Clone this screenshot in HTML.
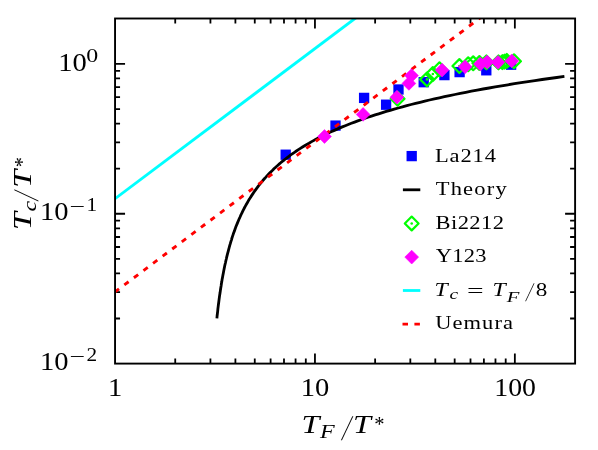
<!DOCTYPE html>
<html><head><meta charset="utf-8"><title>Tc/T* vs TF/T*</title>
<style>html,body{margin:0;padding:0;background:#fff;overflow:hidden}svg{display:block}text{font-family:"Liberation Serif",serif;fill:#000}.i{font-style:italic}</style></head>
<body>
<svg width="598" height="450" viewBox="0 0 598 450">
<rect width="598" height="450" fill="#fff"/>
<path d="M175.23 363.60v-5M175.23 18.50v5M210.43 363.60v-5M210.43 18.50v5M235.40 363.60v-5M235.40 18.50v5M254.77 363.60v-5M254.77 18.50v5M270.60 363.60v-5M270.60 18.50v5M283.99 363.60v-5M283.99 18.50v5M295.58 363.60v-5M295.58 18.50v5M305.80 363.60v-5M305.80 18.50v5M314.95 363.60v-10M314.95 18.50v10M375.13 363.60v-5M375.13 18.50v5M410.33 363.60v-5M410.33 18.50v5M435.30 363.60v-5M435.30 18.50v5M454.67 363.60v-5M454.67 18.50v5M470.50 363.60v-5M470.50 18.50v5M483.89 363.60v-5M483.89 18.50v5M495.48 363.60v-5M495.48 18.50v5M505.70 363.60v-5M505.70 18.50v5M514.85 363.60v-10M514.85 18.50v10M115.05 318.50h5M575.10 318.50h-5M115.05 292.11h5M575.10 292.11h-5M115.05 273.39h5M575.10 273.39h-5M115.05 258.87h5M575.10 258.87h-5M115.05 247.01h5M575.10 247.01h-5M115.05 236.98h5M575.10 236.98h-5M115.05 228.29h5M575.10 228.29h-5M115.05 220.63h5M575.10 220.63h-5M115.05 213.77h10M575.10 213.77h-10M115.05 168.67h5M575.10 168.67h-5M115.05 142.28h5M575.10 142.28h-5M115.05 123.56h5M575.10 123.56h-5M115.05 109.04h5M575.10 109.04h-5M115.05 97.18h5M575.10 97.18h-5M115.05 87.15h5M575.10 87.15h-5M115.05 78.46h5M575.10 78.46h-5M115.05 70.80h5M575.10 70.80h-5M115.05 63.94h10M575.10 63.94h-10" stroke="#000" stroke-width="1.8" fill="none"/>
<g fill="#0000ff">
<rect x="280.55" y="149.55" width="10.3" height="10.3"/>
<rect x="330.35" y="120.45" width="10.3" height="10.3"/>
<rect x="358.95" y="92.75" width="10.3" height="10.3"/>
<rect x="380.95" y="99.55" width="10.3" height="10.3"/>
<rect x="393.35" y="84.35" width="10.3" height="10.3"/>
<rect x="418.55" y="77.05" width="10.3" height="10.3"/>
<rect x="439.25" y="69.95" width="10.3" height="10.3"/>
<rect x="454.45" y="66.95" width="10.3" height="10.3"/>
<rect x="481.15" y="65.15" width="10.3" height="10.3"/>
<rect x="505.95" y="59.55" width="10.3" height="10.3"/>
</g>
<path d="M216.9 318.4L217.1 316.0L217.4 313.5L217.7 311.1L217.9 308.7L218.2 306.4L218.5 304.0L218.8 301.7L219.1 299.4L219.4 297.1L219.7 294.9L220.1 292.6L220.4 290.4L220.7 288.2L221.1 286.0L221.4 283.8L221.8 281.6L222.1 279.5L222.5 277.4L222.9 275.3L223.3 273.2L223.7 271.1L224.1 269.1L224.5 267.0L224.9 265.0L225.4 263.0L225.8 261.0L226.3 259.0L226.7 257.1L227.2 255.1L227.7 253.2L228.2 251.3L228.7 249.4L229.2 247.5L229.7 245.6L230.3 243.7L230.8 241.9L231.4 240.1L231.9 238.2L232.5 236.4L233.1 234.6L233.7 232.8L234.4 231.1L235.0 229.3L235.6 227.6L236.3 225.8L237.0 224.1L237.7 222.4L238.4 220.7L239.1 219.0L239.9 217.3L240.6 215.7L241.4 214.0L242.2 212.3L243.0 210.7L243.8 209.1L244.6 207.5L245.5 205.9L246.4 204.3L247.3 202.7L248.2 201.1L249.1 199.5L250.1 198.0L251.1 196.4L252.1 194.9L253.1 193.4L254.1 191.8L255.2 190.3L256.3 188.8L257.4 187.3L258.5 185.8L259.7 184.4L260.9 182.9L262.1 181.4L263.3 180.0L264.6 178.5L265.9 177.1L267.2 175.6L268.5 174.2L269.9 172.8L271.3 171.4L272.8 170.0L274.2 168.6L275.7 167.2L277.3 165.8L278.8 164.4L280.4 163.0L282.0 161.7L283.7 160.3L285.4 159.0L287.2 157.6L288.9 156.3L290.7 154.9L292.6 153.6L294.5 152.3L296.4 151.0L298.4 149.6L300.4 148.3L302.5 147.0L304.6 145.7L306.8 144.4L309.0 143.2L311.2 141.9L313.5 140.6L315.9 139.3L318.3 138.1L320.7 136.8L323.2 135.6L325.8 134.3L328.4 133.1L331.0 131.8L333.8 130.6L336.6 129.4L339.4 128.1L342.3 126.9L345.3 125.7L348.3 124.5L351.4 123.3L354.6 122.1L357.8 120.9L361.1 119.7L364.5 118.5L367.9 117.3L371.5 116.1L375.1 114.9L378.7 113.8L382.5 112.6L386.3 111.4L390.2 110.3L394.2 109.1L398.3 108.0L402.5 106.8L406.8 105.7L411.1 104.5L415.6 103.4L420.1 102.3L424.8 101.1L429.5 100.0L434.4 98.9L439.4 97.8L444.4 96.7L449.6 95.6L454.9 94.5L460.3 93.4L465.8 92.3L471.4 91.2L477.2 90.1L483.1 89.0L489.1 88.0L495.2 86.9L501.5 85.8L507.9 84.8L514.4 83.7L521.1 82.7L528.0 81.6L534.9 80.6L542.1 79.5L549.4 78.5L556.8 77.5L564.4 76.4" stroke="#000" stroke-width="2.8" fill="none" stroke-linejoin="round"/>
<clipPath id="c"><rect x="115.05" y="18.5" width="460.05" height="345.1"/></clipPath>
<path clip-path="url(#c)" d="M115.05 198.70L361.65 13.50" stroke="#00ffff" stroke-width="2.9" fill="none"/>
<path clip-path="url(#c)" d="M115.05 291.90L486.05 13.50" stroke="#ff0000" stroke-width="2.9" stroke-dasharray="5.3 6.67" stroke-dashoffset="0.35" fill="none"/>
<g fill="none" stroke="#00ff00" stroke-width="2.2" stroke-linejoin="round">
<path d="M390.70 98.80L397.60 91.90L404.50 98.80L397.60 105.70ZM420.10 79.40L427.00 72.50L433.90 79.40L427.00 86.30ZM425.95 74.05L432.85 67.15L439.75 74.05L432.85 80.95ZM432.60 69.20L439.50 62.30L446.40 69.20L439.50 76.10ZM452.50 66.05L459.40 59.15L466.30 66.05L459.40 72.95ZM461.30 64.20L468.20 57.30L475.10 64.20L468.20 71.10ZM466.30 63.30L473.20 56.40L480.10 63.30L473.20 70.20ZM472.50 63.00L479.40 56.10L486.30 63.00L479.40 69.90ZM479.50 62.40L486.40 55.50L493.30 62.40L486.40 69.30ZM491.60 62.40L498.50 55.50L505.40 62.40L498.50 69.30ZM495.50 62.10L502.40 55.20L509.30 62.10L502.40 69.00ZM497.70 61.60L504.60 54.70L511.50 61.60L504.60 68.50ZM499.90 60.90L506.80 54.00L513.70 60.90L506.80 67.80ZM507.10 61.20L514.00 54.30L520.90 61.20L514.00 68.10Z"/>
</g>
<g fill="#00ff00"><circle cx="397.60" cy="98.80" r="1.3"/><circle cx="427.00" cy="79.40" r="1.3"/><circle cx="432.85" cy="74.05" r="1.3"/><circle cx="439.50" cy="69.20" r="1.3"/><circle cx="459.40" cy="66.05" r="1.3"/><circle cx="468.20" cy="64.20" r="1.3"/><circle cx="473.20" cy="63.30" r="1.3"/><circle cx="479.40" cy="63.00" r="1.3"/><circle cx="486.40" cy="62.40" r="1.3"/><circle cx="498.50" cy="62.40" r="1.3"/><circle cx="502.40" cy="62.10" r="1.3"/><circle cx="504.60" cy="61.60" r="1.3"/><circle cx="506.80" cy="60.90" r="1.3"/><circle cx="514.00" cy="61.20" r="1.3"/></g>
<path fill="#ff00ff" stroke="#ff00ff" stroke-width="0.6" stroke-linejoin="round" d="M317.60 136.50L324.50 129.60L331.40 136.50L324.50 143.40ZM356.20 114.40L363.10 107.50L370.00 114.40L363.10 121.30ZM390.00 97.20L396.90 90.30L403.80 97.20L396.90 104.10ZM402.00 83.40L408.90 76.50L415.80 83.40L408.90 90.30ZM404.60 75.60L411.50 68.70L418.40 75.60L411.50 82.50ZM435.20 70.10L442.10 63.20L449.00 70.10L442.10 77.00ZM458.20 66.80L465.10 59.90L472.00 66.80L465.10 73.70ZM473.50 64.00L480.40 57.10L487.30 64.00L480.40 70.90ZM480.20 62.00L487.10 55.10L494.00 62.00L487.10 68.90ZM491.10 62.30L498.00 55.40L504.90 62.30L498.00 69.20ZM504.90 60.90L511.80 54.00L518.70 60.90L511.80 67.80Z"/>
<rect x="115.05" y="18.5" width="460.05" height="345.10" fill="none" stroke="#000" stroke-width="1.9"/>
<rect x="406.55" y="150.95" width="10.3" height="10.3" fill="#0000ff"/>
<path d="M402.9 189.80H420.3" stroke="#000" stroke-width="2.8"/>
<path d="M404.80 223.45L411.70 216.55L418.60 223.45L411.70 230.35Z" fill="none" stroke="#00ff00" stroke-width="2.2" stroke-linejoin="round"/><circle cx="411.7" cy="223.45" r="1.3" fill="#00ff00"/>
<path d="M404.80 257.10L411.70 250.20L418.60 257.10L411.70 264.00Z" fill="#ff00ff" stroke="#ff00ff" stroke-width="0.6" stroke-linejoin="round"/>
<path d="M402.9 290.50H420.3" stroke="#00ffff" stroke-width="2.8"/>
<path d="M402.5 324.10H420.5" stroke="#ff0000" stroke-width="2.7" stroke-dasharray="5.5 6.4"/>
<text transform="translate(435.04 161.90) scale(1.25 1)" font-size="18.0" letter-spacing="0.68">La214</text>
<text transform="translate(435.66 195.40) scale(1.25 1)" font-size="18.0" letter-spacing="0.99">Theory</text>
<text transform="translate(435.54 228.90) scale(1.25 1)" font-size="18.0" letter-spacing="0.34">Bi2212</text>
<text transform="translate(435.77 262.40) scale(1.25 1)" font-size="18.0" letter-spacing="0.18">Y123</text>
<text transform="translate(435.25 329.40) scale(1.25 1)" font-size="18.0" letter-spacing="0.84">Uemura</text>
<text class="i" transform="translate(434.40 296.10) translate(0.00 0.00) scale(1.32 1)" font-size="18">T</text>
<text class="i" transform="translate(449.40 296.10) translate(0.00 3.30) scale(1.3 1)" font-size="15">c</text>
<text transform="translate(467.00 296.10) translate(0.00 0.60) scale(1.55 1)" font-size="19">=</text>
<text class="i" transform="translate(492.60 296.10) translate(0.00 0.00) scale(1.32 1)" font-size="18">T</text>
<text class="i" transform="translate(506.80 296.10) translate(0.00 5.80) scale(1.35 1)" font-size="15.3">F</text>
<text transform="translate(525.20 296.10) translate(0.00 4.80) skewX(-15) scale(0.6 1)" font-size="27">/</text>
<text transform="translate(535.80 296.10) translate(0.00 0.30) scale(1.25 1)" font-size="18.5">8</text>
<text transform="translate(58.20 70.50) scale(1.12 1)" font-size="25.5" text-anchor="start">10</text><text transform="translate(86.20 61.60) scale(1.22 1)" font-size="19.6" text-anchor="start">0</text>
<text transform="translate(40.00 220.30) scale(1.12 1)" font-size="25.5" text-anchor="start">10</text><text transform="translate(69.50 212.60) scale(1.45 1)" font-size="19" text-anchor="start">−</text><text transform="translate(86.60 211.40) scale(1.12 1)" font-size="19" text-anchor="start">1</text>
<text transform="translate(40.00 370.20) scale(1.12 1)" font-size="25.5" text-anchor="start">10</text><text transform="translate(69.50 362.50) scale(1.45 1)" font-size="19" text-anchor="start">−</text><text transform="translate(86.60 361.30) scale(1.12 1)" font-size="19" text-anchor="start">2</text>
<text transform="translate(115.05 396.00) scale(1.12 1)" font-size="25.5" text-anchor="middle">1</text>
<text transform="translate(314.95 396.00) scale(1.12 1)" font-size="25.5" text-anchor="middle">10</text>
<text transform="translate(515.15 396.00) scale(1.09 1)" font-size="25.5" text-anchor="middle">100</text>
<text class="i" transform="translate(301.50 433.40) translate(0.00 0.00) scale(1.24 1)" font-size="26">T</text><text class="i" transform="translate(301.50 433.40) translate(18.60 4.60) scale(1.3 1)" font-size="18.5">F</text><text transform="translate(301.50 433.40) translate(39.60 6.50) skewX(-15) scale(0.6 1)" font-size="36">/</text><text class="i" transform="translate(301.50 433.40) translate(51.40 0.00) scale(1.24 1)" font-size="26">T</text><text transform="translate(301.50 433.40) translate(72.70 -2.50) scale(1.0 1)" font-size="20.5">*</text>
<text class="i" transform="translate(31.20 230.00) rotate(-90) translate(0.00 0.00) scale(1.24 1)" font-size="26">T</text><text class="i" transform="translate(31.20 230.00) rotate(-90) translate(18.60 4.60) scale(1.3 1)" font-size="18.5">c</text><text transform="translate(31.20 230.00) rotate(-90) translate(28.40 6.50) skewX(-15) scale(0.6 1)" font-size="36">/</text><text class="i" transform="translate(31.20 230.00) rotate(-90) translate(42.20 0.00) scale(1.24 1)" font-size="26">T</text><text transform="translate(31.20 230.00) rotate(-90) translate(62.80 -2.50) scale(1.0 1)" font-size="20.5">*</text>
</svg>
</body></html>
